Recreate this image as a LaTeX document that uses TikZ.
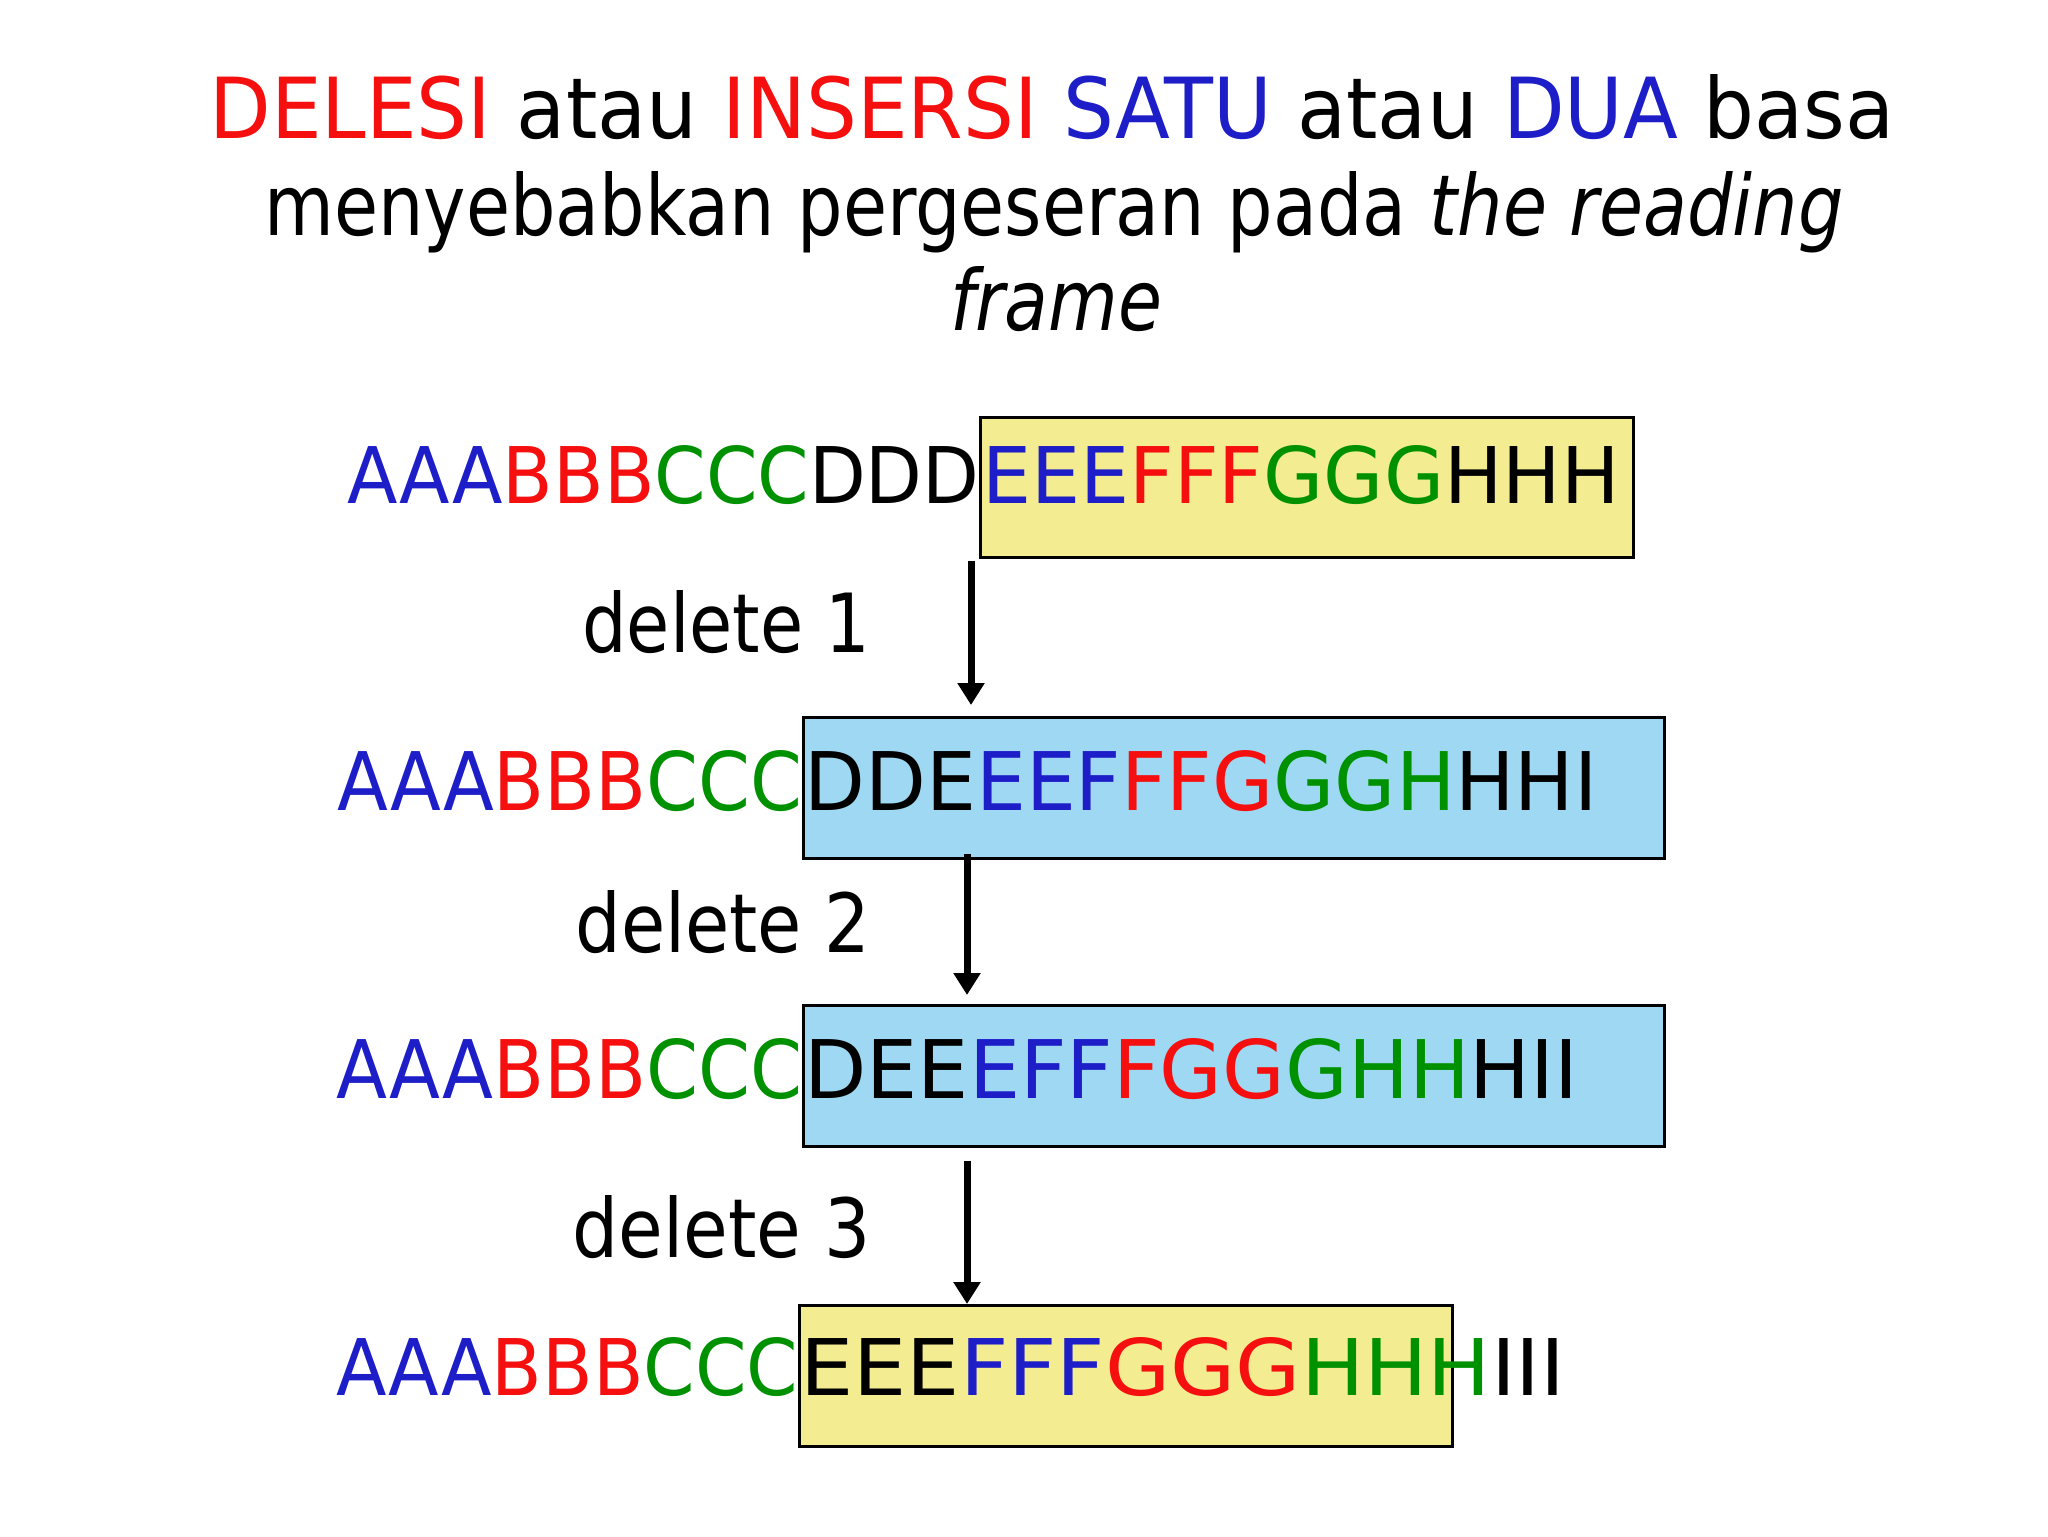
\documentclass[tikz,border=0pt]{standalone}
\usepackage{fontspec}
\setmainfont{DejaVu Sans}
\usetikzlibrary{arrows.meta}
\definecolor{cblue}{RGB}{30,30,200}
\definecolor{cred}{RGB}{245,15,15}
\definecolor{cgreen}{RGB}{0,145,0}
\definecolor{yfill}{RGB}{243,236,145}
\definecolor{bfill}{RGB}{158,216,242}
\newlength\pu
\setlength\pu{0.5pt}
\newcommand\Bl[1]{\textcolor{cblue}{#1}}
\newcommand\Rd[1]{\textcolor{cred}{#1}}
\newcommand\Gr[1]{\textcolor{cgreen}{#1}}
\newcommand\Bk[1]{\textcolor{black}{#1}}
\newcommand\fit[3]{\resizebox{#1\pu}{#2\pu}{#3}}
\tikzset{
  seqbox/.style={draw=black, line width=1.25pt, inner sep=0pt, anchor=north west},
  txt/.style={inner sep=0pt, anchor=base west},
  arr/.style={line width=3.5pt, -{Triangle[length=11pt, width=13pt]}}
}
\begin{document}
\begin{tikzpicture}[x=0.5pt, y=-0.5pt]
\useasboundingbox[fill=white] (0,0) rectangle (2048,1536);
% title
\node[txt] (t1) at (209,139) {\fit{1685}{64}{\Rd{DELESI} atau \Rd{INSERSI} \Bl{SATU} atau \Bl{DUA} basa}};
\node[txt] (t2) at (264,235) {\fit{1579}{64}{menyebabkan pergeseran pada \textit{the reading}}};
\node[txt] (t3) at (950,330) {\fit{212}{64}{\textit{frame}}};
% boxes
\node[seqbox, fill=yfill, minimum width=326.5pt, minimum height=70pt] (box1) at (979,416) {};
\node[seqbox, fill=bfill, minimum width=430.5pt, minimum height=70.5pt] (box2) at (802,716) {};
\node[seqbox, fill=bfill, minimum width=430.5pt, minimum height=70.5pt] (box3) at (802,1004) {};
\node[seqbox, fill=yfill, minimum width=326.5pt, minimum height=70.5pt] (box4) at (798,1304) {};
% row 1
\node[txt] (r1a) at (347,503) {\fit{632}{58}{\Bl{AAA}\Rd{BBB}\Gr{CCC}\Bk{DDD}}};
\node[txt] (r1b) at (982,503) {\fit{637}{58}{\Bl{EEE}\Rd{FFF}\Gr{GGG}\Bk{HHH}}};
% row 2
\node[txt] (r2a) at (337,810) {\fit{465}{60}{\Bl{AAA}\Rd{BBB}\Gr{CCC}}};
\node[txt] (r2b) at (804,810) {\fit{793}{60}{\Bk{DDE}\Bl{EEF}\Rd{FFG}\Gr{GGH}\Bk{HHI}}};
% row 3
\node[txt] (r3a) at (336,1098) {\fit{466}{60}{\Bl{AAA}\Rd{BBB}\Gr{CCC}}};
\node[txt] (r3b) at (804,1098) {\fit{774}{60}{\Bk{DEE}\Bl{EFF}\Rd{FGG}\Gr{GHH}\Bk{HII}}};
% row 4
\node[txt] (r4a) at (336,1395) {\fit{462}{58}{\Bl{AAA}\Rd{BBB}\Gr{CCC}}};
\node[txt] (r4b) at (800,1395) {\fit{765}{58}{\Bk{EEE}\Bl{FFF}\Rd{GGG}\Gr{HHH}\Bk{III}}};
% labels
\node[txt] (d1) at (582,652) {\fit{288}{62}{delete 1}};
\node[txt] (d2) at (575,952) {\fit{295}{62}{delete 2}};
\node[txt] (d3) at (572,1257) {\fit{298}{62}{delete 3}};
% arrow columns
\coordinate (ax1) at (971,0);
\coordinate (ax2) at (967,0);
% arrows
\draw[arr] ([yshift=-1pt]box1.south -| ax1) -- ([yshift=5.5pt]box2.north -| ax1);
\draw[arr] ([yshift=3pt]box2.south -| ax2) -- ([yshift=4.5pt]box3.north -| ax2);
\draw[arr] ([yshift=-6.5pt]box3.south -| ax2) -- (box4.north -| ax2);
\end{tikzpicture}
\end{document}
